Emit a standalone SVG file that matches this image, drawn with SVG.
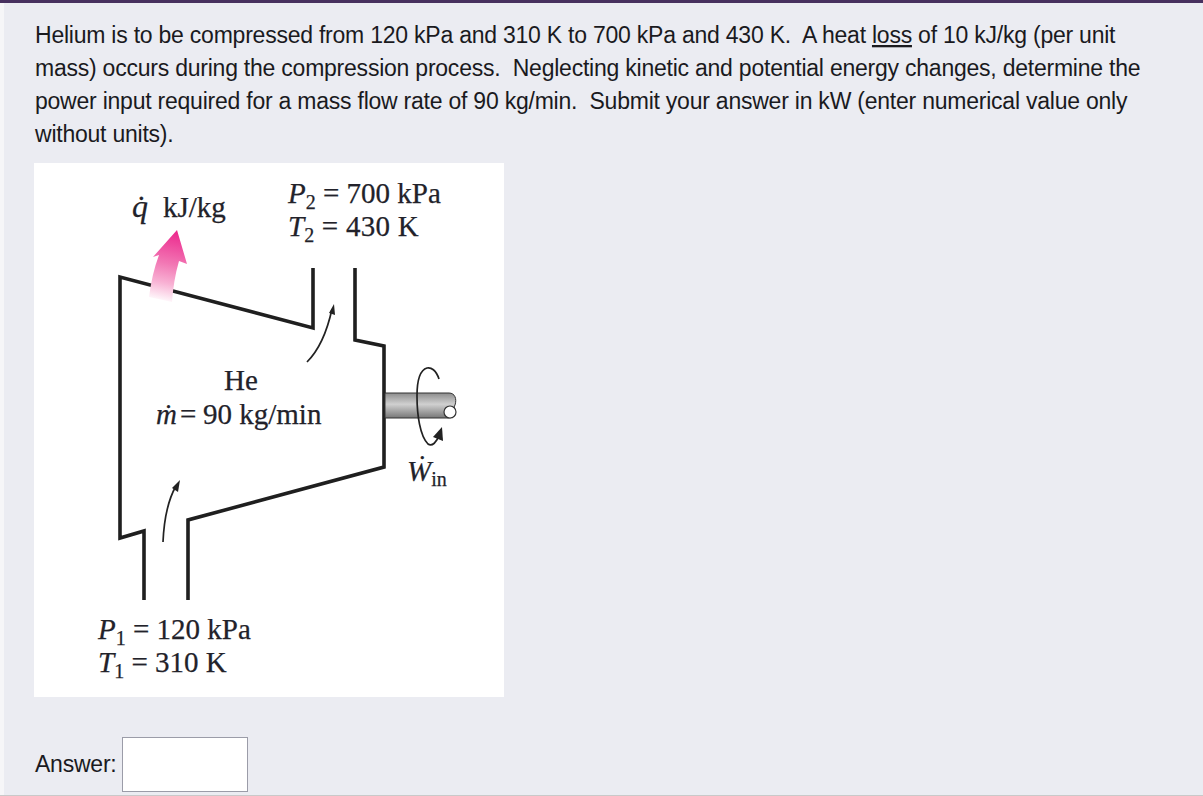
<svg xmlns="http://www.w3.org/2000/svg" width="1203" height="796" viewBox="0 0 1203 796">
<style>
.q{font-family:"Liberation Sans",Arial,sans-serif;font-size:23px;letter-spacing:-.23px;fill:#1a1a1e}
.s{font-family:"Liberation Serif","Times New Roman",serif;font-size:29px;fill:#22222a;stroke:#22222a;stroke-width:.25}
.i{font-style:italic}
.sub{font-size:20px}
.wall{fill:none;stroke:#1f1f1f;stroke-width:3.6;stroke-linejoin:miter}
.flow{fill:none;stroke:#222;stroke-width:1.7}
.head{fill:#222}
</style>
<defs>
<linearGradient id="pink" gradientUnits="userSpaceOnUse" x1="175" y1="232" x2="160" y2="302">
<stop offset="0" stop-color="#ec2a8e"/><stop offset="0.45" stop-color="#f277b4"/><stop offset="0.72" stop-color="#f8b0d3"/><stop offset="1" stop-color="#fff"/>
</linearGradient>
<linearGradient id="shaft" x1="0" y1="0" x2="0" y2="1">
<stop offset="0" stop-color="#8c8c8c"/><stop offset="0.45" stop-color="#d0d0d0"/><stop offset="1" stop-color="#777"/>
</linearGradient>
</defs>
<rect width="1203" height="796" fill="#ebecf2"/>
<rect x="0" y="0" width="4" height="796" fill="#f6f6f8"/>
<rect x="0" y="0" width="1203" height="3" fill="#47305f"/>
<rect x="0" y="795" width="1203" height="1" fill="#c9c9c9"/>

<g id="question">
<text class="q" x="35" y="43" xml:space="preserve">Helium is to be compressed from 120 kPa and 310 K to 700 kPa and 430 K.  A heat <tspan text-decoration="underline">loss</tspan> of 10 kJ/kg (per unit</text>
<text class="q" x="35" y="76" xml:space="preserve">mass) occurs during the compression process.  Neglecting kinetic and potential energy changes, determine the</text>
<text class="q" x="35" y="109" xml:space="preserve">power input required for a mass flow rate of 90 kg/min.  Submit your answer in kW (enter numerical value only</text>
<text class="q" x="35" y="142">without units).</text>
</g>

<rect id="figure" x="34" y="163" width="470" height="534" fill="#fff"/>

<g id="compressor">
<path class="wall" d="M313 268V328L120 277V538L144 531V600"/>
<path class="wall" d="M355 268V340L384 346V467L188 520V600"/>
</g>

<g id="heat-arrow">
<path d="M177 230L187 264L179 261C175 275 173 288 172 302L149 297C151 282 154 268 159 255L153 257Z" fill="url(#pink)"/>
</g>

<g id="shaft-group">
<path d="M385 393H449C455 393 457 399 455 405C453 408 456 410 453 416C452 418 450 418 447 418H385Z" fill="url(#shaft)" stroke="#333" stroke-width="1"/>
<circle cx="450" cy="412" r="6" fill="#fff" stroke="#333" stroke-width="1.2"/>
</g>

<g id="connectors">
<path class="flow" d="M307 362C319 350 327 332 332 309"/>
<path class="head" d="M334 304L335 315L329 313Z"/>
<path class="flow" d="M163 542C164 520 168 500 176 486"/>
<path class="head" d="M180 480L178 492L172 488Z"/>
<path class="flow" d="M439 379C436 370 431 367 427 368C420 370 417 380 417 396C417 415 420 436 428 444C432 447 437 442 439 435"/>
<path class="head" d="M442 427L443 441L433 437Z"/>
</g>

<g id="labels">
<text class="s" x="132" y="217" style="font-style:italic;font-size:32px">q̇</text>
<text class="s" x="163" y="217">kJ/kg</text>
<text class="s" x="288" y="203"><tspan class="i">P</tspan><tspan class="sub" dy="6">2</tspan><tspan dy="-6"> = 700 kPa</tspan></text>
<text class="s" x="288" y="236"><tspan class="i">T</tspan><tspan class="sub" dy="6">2</tspan><tspan dy="-6" letter-spacing=".3"> = 430 K</tspan></text>
<text class="s" x="224" y="389.5">He</text>
<text class="s" x="156" y="423.5"><tspan class="i">ṁ</tspan><tspan x="180">=</tspan><tspan x="203">90 kg/min</tspan></text>
<text class="s" x="407" y="481"><tspan class="i">Ẇ</tspan><tspan class="sub" dy="5">in</tspan></text>
<text class="s" x="98" y="638.5"><tspan class="i">P</tspan><tspan class="sub" dy="6">1</tspan><tspan dy="-6"> = 120 kPa</tspan></text>
<text class="s" x="98" y="671.5"><tspan class="i">T</tspan><tspan class="sub" dy="6">1</tspan><tspan dy="-6"> = 310 K</tspan></text>
</g>

<g id="answer">
<text class="q" x="35" y="772">Answer:</text>
<rect x="122.5" y="737.5" width="125" height="54" fill="#fff" stroke="#9b9ca8" stroke-width="1"/>
</g>
</svg>
